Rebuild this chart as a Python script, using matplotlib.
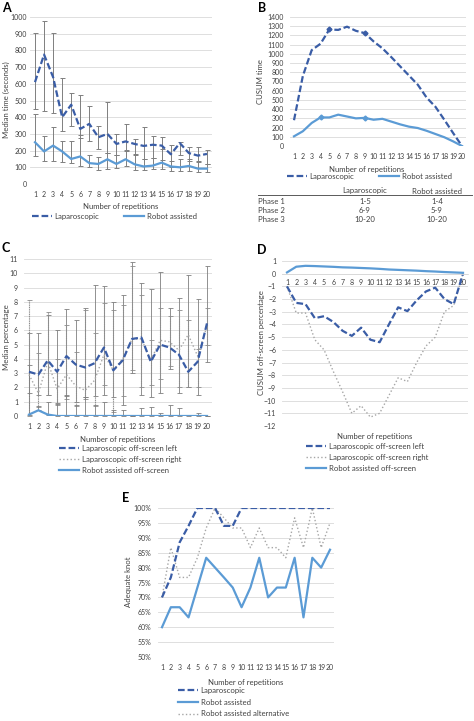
import numpy as np
import matplotlib.pyplot as plt
from matplotlib.lines import Line2D
from matplotlib.ticker import PercentFormatter

plt.rcParams['font.family'] = ['Lato', 'DejaVu Sans']

W, H = 474, 721
reps = list(range(1, 21))

# panel A - median time with ranges
lap_time = [610, 775, 640, 400, 475, 330, 360, 280, 300, 240, 255, 240, 228, 235, 230, 178, 245, 185, 170, 180]
lap_time_lo = [450, 440, 425, 315, 350, 275, 255, 210, 185, 175, 205, 175, 150, 155, 145, 100, 175, 135, 130, 120]
lap_time_hi = [905, 975, 905, 635, 545, 530, 470, 350, 490, 300, 360, 270, 340, 290, 280, 235, 250, 220, 220, 205]
rob_time = [250, 195, 230, 195, 150, 165, 125, 120, 148, 120, 148, 118, 105, 110, 128, 105, 100, 108, 92, 92]
rob_time_lo = [170, 140, 135, 130, 125, 110, 100, 85, 90, 95, 110, 85, 85, 90, 90, 75, 75, 80, 70, 70]
rob_time_hi = [420, 290, 340, 255, 260, 295, 175, 160, 185, 175, 195, 180, 150, 155, 210, 140, 150, 150, 135, 120]

# panel B - CUSUM time
lap_cusum = [280, 760, 1040, 1110, 1265, 1260, 1295, 1250, 1225, 1135, 1060, 965, 865, 765, 665, 525, 425, 285, 140, 0]
rob_cusum = [105, 160, 250, 310, 310, 340, 320, 300, 305, 285, 295, 265, 235, 210, 195, 165, 130, 95, 50, 0]
lap_phase_ends = [5, 9]
rob_phase_ends = [4, 9]
phases = ['Phase 1', 'Phase 2', 'Phase 3']
lap_phase_range = ['1-5', '6-9', '10-20']
rob_phase_range = ['1-4', '5-9', '10-20']

# panel C - off-screen median percentage with ranges
lap_left = [3.1, 2.9, 3.9, 3.1, 4.2, 3.6, 3.4, 3.7, 4.8, 3.2, 3.9, 5.4, 5.5, 3.8, 5.0, 4.8, 4.3, 3.1, 3.8, 6.5]
lap_left_lo = [1.6, 1.5, 1.5, 0.9, 1.4, 1.0, 1.3, 1.4, 1.5, 1.3, 0.8, 3.0, 1.5, 1.3, 1.6, 3.3, 1.6, 2.0, 1.5, 3.8]
lap_left_hi = [5.8, 5.8, 7.1, 6.0, 7.5, 6.7, 7.6, 9.2, 9.1, 8.0, 8.5, 10.8, 9.3, 8.9, 10.1, 7.6, 8.3, 9.9, 8.2, 10.5]
lap_right = [2.9, 1.6, 3.8, 1.9, 2.9, 2.1, 1.8, 2.5, 4.3, 3.2, 4.0, 5.4, 5.4, 3.9, 5.3, 5.2, 4.6, 5.7, 4.2, 6.3]
lap_right_lo = [0.0, 0.6, 1.5, 0.8, 1.2, 0.7, 1.2, 0.7, 2.2, 0.3, 1.4, 3.2, 2.0, 2.2, 2.6, 3.5, 2.0, 2.0, 2.0, 5.0]
lap_right_hi = [8.1, 4.4, 7.3, 4.0, 6.4, 4.5, 7.4, 5.8, 7.9, 7.4, 7.8, 10.5, 8.5, 5.3, 7.6, 7.0, 7.4, 6.7, 4.7, 7.6]
rob_off = [0.1, 0.4, 0.1, 0, 0, 0, 0, 0, 0, 0, 0, 0, 0, 0, 0, 0, 0, 0, 0, 0]
rob_off_hi = [3.6, 0.7, 1.0, 0.85, 1.5, 0.75, 1.3, 0.75, 1.0, 0.4, 0.4, 0, 0.55, 0.6, 0.2, 0.75, 0.55, 0.1, 0.2, 0]

# panel D - CUSUM off-screen
cusum_left = [-1.0, -2.3, -2.4, -3.5, -3.35, -3.8, -4.5, -4.9, -4.25, -5.2, -5.4, -4.0, -2.65, -2.95, -2.1, -1.4, -1.1, -2.0, -2.4, 0]
cusum_right = [-1.0, -3.1, -3.1, -5.2, -6.0, -7.7, -9.3, -11.0, -10.4, -11.3, -11.0, -9.6, -8.2, -8.5, -7.0, -5.7, -5.0, -3.0, -2.5, 0]
cusum_rob = [0.1, 0.55, 0.62, 0.6, 0.57, 0.54, 0.5, 0.48, 0.45, 0.42, 0.38, 0.33, 0.3, 0.27, 0.24, 0.2, 0.17, 0.13, 0.1, 0.07]

# panel E - adequate knot
knot_lap = [70, 76.7, 88.5, 94, 100, 100, 100, 94, 94, 100, 100, 100, 100, 100, 100, 100, 100, 100, 100, 100]
knot_rob = [60, 66.7, 66.7, 63.3, 73.3, 83.3, 80, 76.7, 73.3, 66.7, 73.3, 83.3, 70, 73.3, 73.3, 83.3, 63.3, 83.3, 80, 86]
knot_rob_alt = [70, 86.7, 76.7, 76.7, 83.3, 93.3, 100, 96.7, 93.3, 93.3, 86.7, 93.3, 86.7, 86.7, 83.3, 96.7, 86.7, 100, 86.7, 95]

dark = '#3A5DA6'
light = '#5B9BD5'
grey = '#A6A6A6'
ebc = '#7F7F7F'
txt = '#404040'
dash = (3, 1.3)
fs = 5.6

fig = plt.figure(figsize=(W/100, H/100), dpi=100)


def make_ax(x1, x20, ytop, ybot, ypad):
    dx = (x20 - x1) / 19
    left, right = x1 - dx/2, x20 + dx/2
    ax = fig.add_axes([left/W, 1 - ybot/H, (right - left)/W, (ybot - ytop)/H])
    ax.set_xlim(0.5, 20.5)
    for s in ax.spines.values():
        s.set_visible(False)
    ax.grid(axis='y', color='#D9D9D9', lw=0.6)
    ax.set_axisbelow(True)
    ax.set_xticks(reps)
    ax.tick_params(length=0, labelsize=5, colors=txt)
    ax.tick_params(axis='y', pad=ypad)
    ax.tick_params(axis='x', pad=5)
    return ax


def place_labels(ax, xl, yl, xlab='Number of repetitions', ylab=''):
    ax.set_xlabel(xlab, fontsize=fs, color=txt)
    ax.xaxis.set_label_coords(xl[0]/W, 1 - xl[1]/H, transform=fig.transFigure)
    ax.set_ylabel(ylab, fontsize=fs, color=txt)
    ax.yaxis.set_label_coords(yl[0]/W, 1 - yl[1]/H, transform=fig.transFigure)


def legend(handles, labels, x, y, ncol=1, colsp=2.0, lsp=0.5):
    fig.legend(handles, labels, loc='upper left', bbox_to_anchor=(x/W, 1 - y/H),
               ncol=ncol, frameon=False, fontsize=fs, handlelength=2.6, handletextpad=0.3,
               borderpad=0, borderaxespad=0, labelspacing=lsp, columnspacing=colsp,
               labelcolor=txt)


h_lap = Line2D([], [], color=dark, lw=1.6, dashes=dash)
h_rob = Line2D([], [], color=light, lw=1.6)
h_dot = Line2D([], [], color=grey, lw=1.0, ls=':')

# ---- A ----
ax = make_ax(35, 207, 17, 184, 2.5)
ax.set_ylim(0, 1000)
ax.set_yticks(range(0, 1001, 100))
lt = np.array(lap_time)
rt = np.array(rob_time)
ax.errorbar(reps, lt, yerr=[lt - np.array(lap_time_lo), np.array(lap_time_hi) - lt], fmt='none',
            ecolor=ebc, elinewidth=0.7, capsize=1.8, capthick=0.7)
ax.errorbar(reps, rt, yerr=[rt - np.array(rob_time_lo), np.array(rob_time_hi) - rt], fmt='none',
            ecolor=ebc, elinewidth=0.7, capsize=1.8, capthick=0.7)
ax.plot(reps, lt, color=dark, lw=1.6, dashes=dash)
ax.plot(reps, rt, color=light, lw=1.6)
place_labels(ax, (121, 203), (10, 100), ylab='Median time (seconds)')
legend([h_lap, h_rob], ['Laparoscopic', 'Robot assisted'], 32, 213, ncol=2, colsp=3.2)
fig.text(2/W, 1 - 2/H, 'A', fontsize=9, fontweight='bold', va='top')

# ---- B ----
ax = make_ax(294, 462, 17, 146, 4)
ax.set_ylim(0, 1400)
ax.set_yticks(range(0, 1401, 100))
ax.plot(reps, lap_cusum, color=dark, lw=1.6, dashes=dash, marker='D', ms=2.5,
        markevery=[e - 1 for e in lap_phase_ends])
ax.plot(reps, rob_cusum, color=light, lw=1.6, marker='D', ms=2.5,
        markevery=[e - 1 for e in rob_phase_ends])
place_labels(ax, (367, 166), (264, 82), ylab='CUSUM time')
legend([h_lap, h_rob], ['Laparoscopic', 'Robot assisted'], 287, 173, ncol=2, colsp=3.2)
fig.text(258/W, 1 - 2/H, 'B', fontsize=9, fontweight='bold', va='top')
fig.add_artist(Line2D([258/W, 472/W], [1 - 194.5/H, 1 - 194.5/H], color='#595959', lw=0.7))
fig.text(365/W, 1 - 191/H, 'Laparoscopic', fontsize=fs, color=txt, ha='center', va='center')
fig.text(437/W, 1 - 191/H, 'Robot assisted', fontsize=fs, color=txt, ha='center', va='center')
for i, ph in enumerate(phases):
    yy = 1 - (201 + 9.5*i)/H
    fig.text(258/W, yy, ph, fontsize=fs, color=txt, va='center')
    fig.text(365/W, yy, lap_phase_range[i], fontsize=fs, color=txt, ha='center', va='center')
    fig.text(437/W, yy, rob_phase_range[i], fontsize=fs, color=txt, ha='center', va='center')

# ---- C ----
ax = make_ax(29, 207, 259, 416, 4.5)
ax.set_ylim(0, 11)
ax.set_yticks(range(0, 12))
ll = np.array(lap_left)
lr = np.array(lap_right)
ro = np.array(rob_off)
ax.errorbar(reps, ll, yerr=[ll - np.array(lap_left_lo), np.array(lap_left_hi) - ll], fmt='none',
            ecolor=ebc, elinewidth=0.6, capsize=1.8, capthick=0.6)
eb = ax.errorbar(reps, lr, yerr=[lr - np.array(lap_right_lo), np.array(lap_right_hi) - lr], fmt='none',
                 ecolor='#8C8C8C', elinewidth=0.8, capsize=1.8, capthick=0.6)
eb[2][0].set_linestyle((0, (1, 0.6)))
ax.errorbar(reps, ro, yerr=[np.zeros(20), np.array(rob_off_hi) - ro], fmt='none',
            ecolor=ebc, elinewidth=0.6, capsize=1.8, capthick=0.6)
ax.plot(reps, lr, color=grey, lw=1.0, ls=':')
ax.plot(reps, ll, color=dark, lw=1.6, dashes=dash)
ax.plot(reps, ro, color=light, lw=1.6)
place_labels(ax, (118, 436), (10, 337), ylab='Median percentage')
labs = ['Laparoscopic off-screen left', 'Laparoscopic off-screen right', 'Robot assisted off-screen']
legend([h_lap, h_dot, h_rob], labs, 59, 445)
fig.text(2/W, 1 - 242/H, 'C', fontsize=9, fontweight='bold', va='top')

# ---- D ----
ax = make_ax(287, 463, 261, 426, 4.5)
ax.set_ylim(-12, 1)
ax.set_yticks(range(-12, 2))
ax.spines['bottom'].set_visible(True)
ax.spines['bottom'].set_position(('data', 0))
ax.spines['bottom'].set_color('#D9D9D9')
ax.spines['bottom'].set_linewidth(0.6)
ax.tick_params(axis='x', pad=4)
ax.plot(reps, cusum_right, color=grey, lw=1.0, ls=':')
ax.plot(reps, cusum_left, color=dark, lw=1.6, dashes=dash)
ax.plot(reps, cusum_rob, color=light, lw=1.6)
place_labels(ax, (375, 433), (265, 343), ylab='CUSUM off-screen percentage')
legend([h_lap, h_dot, h_rob], labs, 306, 443)
fig.text(257/W, 1 - 244/H, 'D', fontsize=9, fontweight='bold', va='top')

# ---- E ----
ax = make_ax(162, 330, 508, 657, 4.5)
ax.set_ylim(50, 100)
ax.set_yticks(range(50, 101, 5))
ax.yaxis.set_major_formatter(PercentFormatter(decimals=0))
ax.plot(reps, knot_rob_alt, color=grey, lw=1.0, ls=':')
ax.plot(reps, knot_lap, color=dark, lw=1.6, dashes=dash)
ax.plot(reps, knot_rob, color=light, lw=1.6)
place_labels(ax, (246, 679), (132, 582), ylab='Adequate knot')
legend([h_lap, h_rob, h_dot], ['Laparoscopic', 'Robot assisted', 'Robot assisted alternative'], 178, 687, lsp=0.6)
fig.text(122/W, 1 - 492/H, 'E', fontsize=9, fontweight='bold', va='top')

fig.savefig('out.png', dpi=100, facecolor='white')
